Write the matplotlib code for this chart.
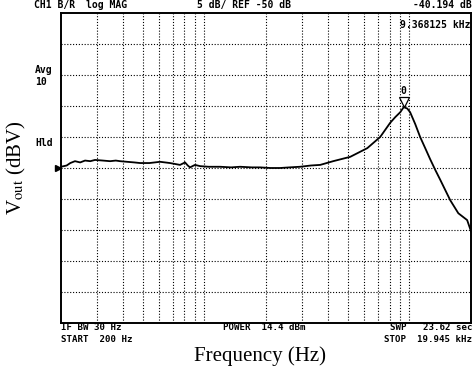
import matplotlib
matplotlib.use("Agg")
import matplotlib.pyplot as plt
import matplotlib.transforms as mtransforms

# --- trace (log MAG, 5 dB/div, REF -50 dB) ---
freq_hz = [200, 213, 222, 234, 248, 262, 278, 293, 320, 347, 370, 388,
           420, 455, 486, 540, 608, 680, 761, 805, 830, 851, 900, 953,
           1050, 1194, 1350, 1493, 1700, 1870, 2100, 2340, 2600, 2930,
           3300, 3670, 4245, 5140, 6225, 7195, 8055, 8520, 9015, 9368, 9747,
           10070, 10660, 11270, 11930, 12620, 13350, 14120, 15800, 17300,
           19100, 19945]
vout_dbv = [-49.8, -49.6, -49.2, -48.9, -49.1, -48.8, -48.9, -48.7, -48.8,
            -48.9, -48.8, -48.9, -49.0, -49.1, -49.2, -49.2, -49.0, -49.2,
            -49.5, -49.1, -49.6, -49.9, -49.5, -49.7, -49.8, -49.8, -49.9,
            -49.8, -49.9, -49.9, -50.0, -50.0, -49.9, -49.8, -49.6, -49.5,
            -48.9, -48.2, -46.8, -45.0, -42.7, -41.8, -41.0, -40.194, -40.4,
            -41.0, -42.9, -45.0, -46.8, -48.6, -50.3, -51.9, -55.2, -57.3,
            -58.4, -60.2]

grid_freqs = [300, 400, 500, 600, 700, 800, 900, 1000,
              2000, 3000, 4000, 5000, 6000, 7000, 8000, 9000, 10000]

ref_db = -50
db_per_div = 5
marker_freq = 9368.125
marker_db = -40.194

mono = "DejaVu Sans Mono"
fs = 7.0
fs_foot = 6.6

plt.rcParams["mathtext.fontset"] = "stix"

fig = plt.figure(figsize=(4.74, 3.72), dpi=100)
ax = fig.add_axes([61 / 474, 1 - 323 / 372, 410 / 474, 310 / 372])

ax.set_xscale("log")
ax.set_xlim(200, 19945)
ax.set_ylim(ref_db - 5 * db_per_div, ref_db + 5 * db_per_div)

# dotted graticule
for f in grid_freqs:
    ax.axvline(f, color="black", linestyle=(0, (1, 1.6)), linewidth=0.8, zorder=1)
for k in range(1, 10):
    ax.axhline(ref_db - 25 + k * db_per_div, color="black",
               linestyle=(0, (1, 1.6)), linewidth=0.8, zorder=1)

ax.plot(freq_hz, vout_dbv, color="black", linewidth=1.3, zorder=3)

# marker 0 at the peak
off = mtransforms.offset_copy(ax.transData, fig=fig, x=0, y=5, units="dots")
ax.plot([marker_freq], [marker_db], marker="v", markersize=7, mfc="white",
        mec="black", mew=0.9, transform=off, zorder=4)
ax.text(marker_freq, marker_db, "0", transform=mtransforms.offset_copy(
        ax.transData, fig=fig, x=0, y=11, units="dots"),
        ha="center", va="bottom", fontsize=fs, family=mono, fontweight="bold")

ax.set_xticks([])
ax.set_yticks([])
ax.xaxis.set_minor_locator(matplotlib.ticker.NullLocator())
for s in ax.spines.values():
    s.set_linewidth(1.4)

# marker readout inside the graticule
ax.text(0.998, 0.962, "9.368125 kHz", transform=ax.transAxes, ha="right",
        va="center", fontsize=fs, family=mono, fontweight="bold", zorder=5)

# header line
fig.text(34 / 474, 1 - 5 / 372, "CH1 B/R", fontsize=fs, family=mono,
         fontweight="bold", va="center")
fig.text(86 / 474, 1 - 5 / 372, "log MAG", fontsize=fs, family=mono,
         fontweight="bold", va="center")
fig.text(197 / 474, 1 - 5 / 372, "5 dB/ REF -50 dB", fontsize=fs, family=mono,
         fontweight="bold", va="center")
fig.text(472 / 474, 1 - 5 / 372, "-40.194 dB", fontsize=fs, family=mono,
         fontweight="bold", va="center", ha="right")

# left annotations
fig.text(35 / 474, 1 - 76 / 372, "Avg\n10", fontsize=fs, family=mono,
         fontweight="bold", va="center", linespacing=1.3)
fig.text(35 / 474, 1 - 143 / 372, "Hld", fontsize=fs, family=mono,
         fontweight="bold", va="center")
ax.plot([0], [ref_db], marker=">", markersize=5, color="black",
        transform=mtransforms.blended_transform_factory(ax.transAxes, ax.transData)
        + mtransforms.ScaledTranslation(-3 / 100, 0, fig.dpi_scale_trans),
        clip_on=False, zorder=5)

# footer lines
y1, y2 = 1 - 328 / 372, 1 - 339 / 372
fig.text(61 / 474, y1, "IF BW 30 Hz", fontsize=fs_foot, family=mono,
         fontweight="bold", va="center")
fig.text(61 / 474, y2, "START  200 Hz", fontsize=fs_foot, family=mono,
         fontweight="bold", va="center")
fig.text(223 / 474, y1, "POWER  14.4 dBm", fontsize=fs_foot, family=mono,
         fontweight="bold", va="center")
fig.text(472 / 474, y1, "SWP   23.62 sec", fontsize=fs_foot, family=mono,
         fontweight="bold", va="center", ha="right")
fig.text(472 / 474, y2, "STOP  19.945 kHz", fontsize=fs_foot, family=mono,
         fontweight="bold", va="center", ha="right")

# axis titles
fig.text(260 / 474, 1 - 356 / 372, "Frequency (Hz)", fontsize=15,
         family="Liberation Serif", ha="center", va="center")
fig.text(16 / 474, 1 - 168 / 372, r"V$_{\mathrm{out}}$ (dBV)", fontsize=15,
         family="Liberation Serif", ha="center", va="center", rotation=90)

fig.savefig("out.png", dpi=100)
